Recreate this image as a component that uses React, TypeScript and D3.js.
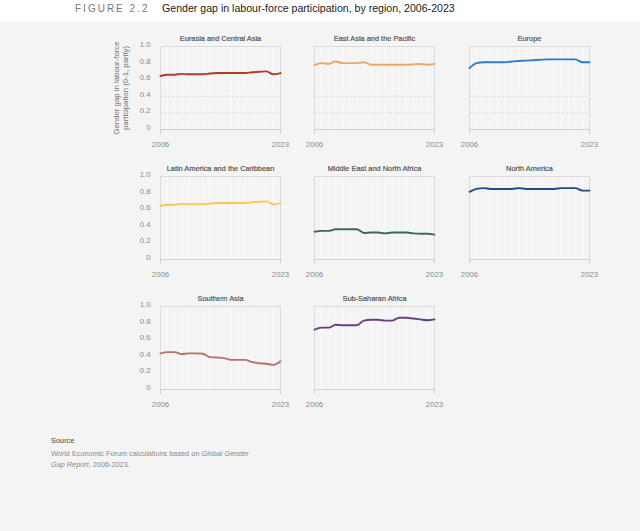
import React, { useLayoutEffect } from "react";
import * as d3 from "d3";

const years = d3.range(2006, 2024);

const regions = [
  "Eurasia and Central Asia",
  "East Asia and the Pacific",
  "Europe",
  "Latin America and the Caribbean",
  "Middle East and North Africa",
  "North America",
  "Southern Asia",
  "Sub-Saharan Africa",
];

const colors = ["#b5382c", "#eba767", "#2a7cc4", "#f6c85a", "#3b6a53", "#1f4c8f", "#b8716f", "#6a3f80"];

const eurasia = [0.645, 0.66, 0.66, 0.67, 0.665, 0.665, 0.665, 0.675, 0.68, 0.68, 0.68, 0.68, 0.68, 0.69, 0.695, 0.7, 0.665, 0.68];
const eastAsia = [0.775, 0.8, 0.79, 0.82, 0.8, 0.8, 0.8, 0.81, 0.78, 0.78, 0.78, 0.78, 0.78, 0.78, 0.785, 0.79, 0.78, 0.79];
const europe = [0.74, 0.8, 0.81, 0.81, 0.81, 0.81, 0.82, 0.825, 0.83, 0.835, 0.84, 0.845, 0.845, 0.845, 0.845, 0.845, 0.81, 0.81];
const latinAmerica = [0.645, 0.66, 0.66, 0.67, 0.665, 0.665, 0.665, 0.675, 0.68, 0.68, 0.68, 0.68, 0.68, 0.69, 0.695, 0.7, 0.665, 0.68];
const middleEast = [0.335, 0.345, 0.345, 0.365, 0.365, 0.365, 0.365, 0.32, 0.325, 0.325, 0.315, 0.325, 0.325, 0.325, 0.315, 0.31, 0.31, 0.3];
const northAmerica = [0.815, 0.85, 0.86, 0.85, 0.85, 0.85, 0.85, 0.86, 0.85, 0.85, 0.85, 0.85, 0.85, 0.86, 0.86, 0.86, 0.83, 0.83];
const southernAsia = [0.435, 0.45, 0.45, 0.425, 0.435, 0.435, 0.43, 0.39, 0.385, 0.378, 0.357, 0.357, 0.357, 0.33, 0.317, 0.31, 0.297, 0.34];
const subSaharan = [0.72, 0.745, 0.745, 0.78, 0.775, 0.775, 0.775, 0.83, 0.84, 0.84, 0.83, 0.83, 0.865, 0.865, 0.855, 0.845, 0.835, 0.845];

const series = [eurasia, eastAsia, europe, latinAmerica, middleEast, northAmerica, southernAsia, subSaharan];

const yTicks = [0, 0.2, 0.4, 0.6, 0.8, 1.0];
const dashedTicks = [0.2, 0.4];

const W = 640;
const H = 531;
const colLeft = [160.5, 314.5, 469.5];
const rowTop = [46.5, 176.5, 306.5];
const pw = 120;
const ph = 83;
const font = "'Liberation Sans', Arial, Helvetica, sans-serif";

function Panel({ idx }: { idx: number }) {
  const col = idx % 3;
  const row = Math.floor(idx / 3);
  const x0 = colLeft[col];
  const y0 = rowTop[row];
  const x = d3.scaleLinear().domain([2006, 2023]).range([0, pw]);
  const y = d3.scaleLinear().domain([0, 1]).range([ph, 0]);
  const line = d3
    .line<number>()
    .x((_, i) => x(years[i]))
    .y((d) => y(d))
    .curve(d3.curveMonotoneX);
  return (
    <g transform={`translate(${x0},${y0})`}>
      <text x={pw / 2} y={-6} textAnchor="middle" fontSize={7.4} fill="#555" stroke="#555" strokeWidth={0.2} fontFamily={font}>
        {regions[idx]}
      </text>
      {years.map((yr) => (
        <line key={yr} x1={x(yr)} x2={x(yr)} y1={0} y2={ph} stroke="#ffffff" strokeOpacity={0.45} strokeWidth={1} />
      ))}
      {row === 0 &&
        dashedTicks.map((t) => (
          <line key={t} x1={0} x2={pw} y1={y(t)} y2={y(t)} stroke="#d2d2d2" strokeWidth={0.8} strokeDasharray="2,2" />
        ))}
      <rect x={0} y={0} width={pw} height={ph} fill="none" stroke="#dcdcdc" strokeWidth={1} />
      <line x1={0} x2={pw} y1={ph} y2={ph} stroke="#cfcfcf" strokeWidth={1} />
      <line x1={0} x2={0} y1={ph} y2={ph + 4} stroke="#cfcfcf" />
      <line x1={pw} x2={pw} y1={ph} y2={ph + 4} stroke="#cfcfcf" />
      {col === 0 &&
        yTicks.map((t) => (
          <text key={t} x={-10} y={y(t) - 1.5} dominantBaseline="middle" textAnchor="end" fontSize={7.8} fill="#8a8a8a" fontFamily={font}>
            {t === 0 ? "0" : d3.format(".1f")(t)}
          </text>
        ))}
      <text x={0} y={ph + 17} textAnchor="middle" fontSize={7.8} fill="#8a8a8a" fontFamily={font}>2006</text>
      <text x={pw} y={ph + 17} textAnchor="middle" fontSize={7.8} fill="#8a8a8a" fontFamily={font}>2023</text>
      <path d={line(series[idx]) || ""} fill="none" stroke={colors[idx]} strokeWidth={1.9} strokeLinejoin="round" strokeLinecap="round" />
    </g>
  );
}

export default function App() {
  useLayoutEffect(() => {
    document.body.style.margin = "0";
  }, []);
  return (
    <svg width={W} height={H} style={{ display: "block" }}>
      <rect x={0} y={0} width={W} height={H} fill="#ffffff" />
      <rect x={0} y={22} width={W} height={H - 22} fill="#f4f4f4" />
      <text x={75} y={12} fontSize={10} letterSpacing={2} fill="#777" fontFamily={font}>FIGURE 2.2</text>
      <text x={162} y={12} fontSize={10.6} fill="#222" fontFamily={font}>
        Gender gap in labour-force participation, by region, 2006-2023
      </text>
      <g transform={`translate(117,${rowTop[0] + ph / 2}) rotate(-90)`}>
        <text x={0} y={0} textAnchor="middle" dominantBaseline="middle" fontSize={7.8} fill="#707070" fontFamily={font}>
          Gender gap in labour-force
        </text>
        <text x={0} y={9} textAnchor="middle" dominantBaseline="middle" fontSize={7.8} fill="#707070" fontFamily={font}>
          participation (0-1, parity)
        </text>
      </g>
      {regions.map((_, i) => (
        <Panel key={i} idx={i} />
      ))}
      <text x={51} y={443} fontSize={7.4} fill="#444" fontFamily={font}>Source</text>
      <text x={51} y={456} fontSize={7.3} fill="#8a8a8a" fontFamily={font}>
        World Economic Forum calculations based on <tspan fontStyle="italic">Global Gender</tspan>
      </text>
      <text x={51} y={467} fontSize={7.3} fill="#8a8a8a" fontFamily={font}>
        <tspan fontStyle="italic">Gap Report</tspan>, 2006-2023.
      </text>
    </svg>
  );
}
